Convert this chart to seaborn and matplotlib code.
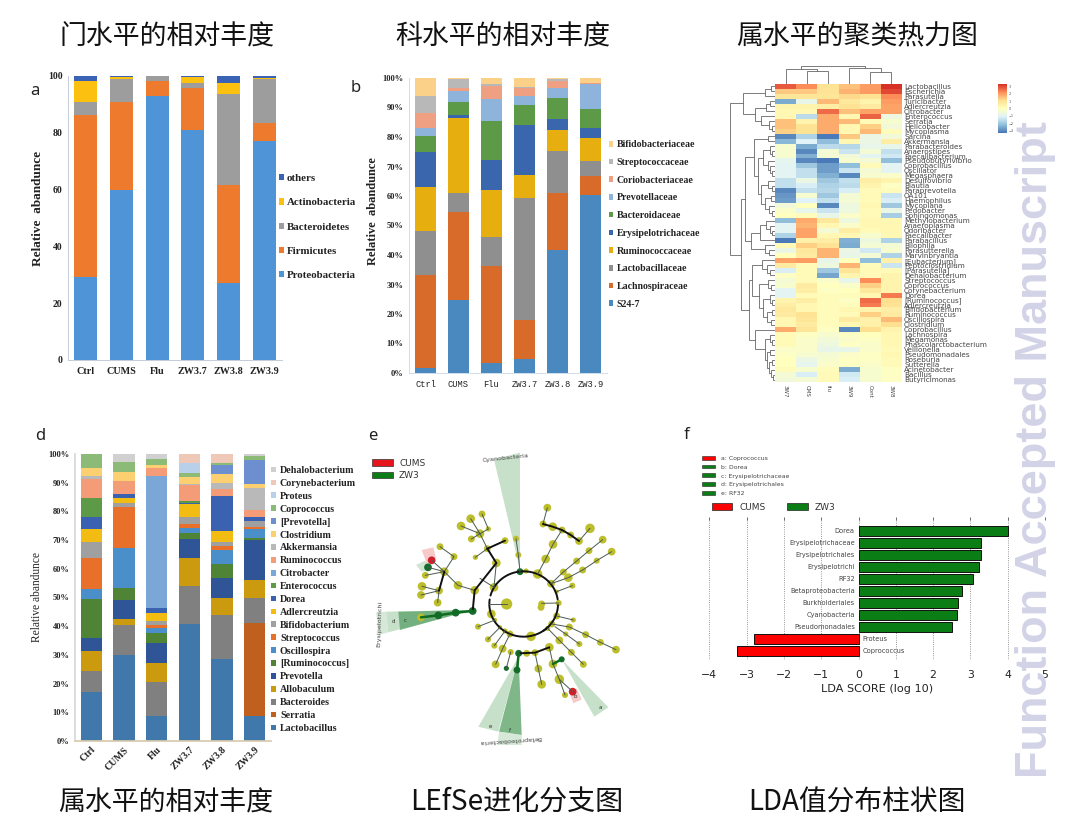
import numpy as np
import pandas as pd
import matplotlib
matplotlib.use("Agg")
import matplotlib.pyplot as plt
import seaborn as sns
from matplotlib.patches import Patch, Polygon
from matplotlib.colors import LinearSegmentedColormap

# ---------- panel a ----------
groups = ["Ctrl", "CUMS", "Flu", "ZW3.7", "ZW3.8", "ZW3.9"]
a_names = ["Proteobacteria", "Firmicutes", "Bacteroidetes", "Actinobacteria", "others"]
a_colors = ["#4e94d6", "#ee7a2e", "#9d9d9d", "#fcc010", "#3a62b5"]
a_ctrl = [29.4, 56.8, 4.7, 7.3, 1.8]
a_cums = [59.8, 31.1, 8.1, 0.6, 0.4]
a_flu = [93.0, 5.2, 1.8, 0.0, 0.0]
a_zw37 = [80.9, 15.0, 1.8, 1.9, 0.4]
a_zw38 = [27.2, 34.3, 32.3, 3.7, 2.5]
a_zw39 = [77.0, 6.5, 15.3, 0.6, 0.6]

# ---------- panel b ----------
b_names = ["S24-7", "Lachnospiraceae", "Lactobacillaceae", "Ruminococcaceae", "Erysipelotrichaceae",
           "Bacteroidaceae", "Prevotellaceae", "Coriobacteriaceae", "Streptococcaceae", "Bifidobacteriaceae"]
b_colors = ["#4a88c0", "#d96b2a", "#8f8f8f", "#e6ae0e", "#3a66ae",
            "#5d9a48", "#8fb4dc", "#ef9f82", "#b8b8b8", "#fbd088"]
b_ctrl = [1.7, 31.6, 14.7, 15.0, 11.8, 5.4, 2.8, 5.0, 6.0, 6.0]
b_cums = [24.9, 29.6, 6.5, 25.5, 0.8, 4.7, 3.5, 1.0, 3.0, 0.5]
b_flu = [3.5, 32.7, 9.8, 16.0, 10.2, 13.1, 7.5, 4.6, 0.6, 2.0]
b_zw37 = [4.8, 13.3, 41.3, 7.7, 17.0, 6.9, 2.8, 2.8, 0.2, 3.2]
b_zw38 = [41.6, 19.4, 14.2, 7.3, 3.5, 7.3, 3.2, 2.5, 0.6, 0.4]
b_zw39 = [60.4, 6.4, 5.2, 7.5, 3.7, 6.2, 8.6, 0.2, 0.1, 1.7]

# ---------- panel d ----------
d_names = ["Lactobacillus", "Serratia", "Bacteroides", "Allobaculum", "Prevotella", "[Ruminococcus]",
           "Oscillospira", "Streptococcus", "Bifidobacterium", "Adlercreutzia", "Dorea", "Enterococcus",
           "Citrobacter", "Ruminococcus", "Akkermansia", "Clostridium", "[Prevotella]", "Coprococcus",
           "Proteus", "Corynebacterium", "Dehalobacterium"]
d_colors = ["#4178ac", "#c0601f", "#808080", "#cc9a0e", "#2f5597", "#4f8437", "#4a8fca", "#e8702a",
            "#a0a0a0", "#f3bc12", "#3a62b0", "#5c9a47", "#7aa6d8", "#f49b78", "#b9b9b9", "#fcd071",
            "#6d8fcf", "#8cbb78", "#b8d0ea", "#f0c8b8", "#d0d0d0"]
d_ctrl = [17.1, 0.0, 7.2, 7.2, 4.5, 13.6, 3.4, 10.6, 5.9, 4.3, 4.1, 6.7, 0.0, 6.8, 1.0, 2.6, 0.0, 5.0, 0.0, 0.0, 0.0]
d_cums = [30.0, 0.0, 10.5, 2.1, 6.6, 4.2, 13.9, 14.4, 1.4, 1.6, 1.4, 0.0, 0.0, 4.4, 0.0, 3.1, 0.3, 3.3, 0.0, 0.0, 2.8]
d_flu = [8.8, 0.0, 11.6, 6.8, 7.1, 3.5, 1.4, 1.2, 1.4, 2.9, 1.7, 0.0, 46.0, 2.7, 0.0, 1.1, 0.0, 2.2, 0.0, 0.0, 1.6]
d_zw37 = [40.7, 0.0, 13.4, 9.7, 6.6, 2.1, 1.8, 1.3, 2.6, 4.3, 0.4, 0.8, 0.0, 5.5, 0.3, 2.4, 0.0, 1.5, 3.5, 3.1, 0.0]
d_zw38 = [28.5, 0.0, 15.4, 6.0, 6.9, 4.7, 4.9, 1.6, 1.2, 3.9, 12.2, 0.0, 0.0, 2.4, 2.2, 3.0, 3.4, 0.7, 0.0, 3.0, 0.0]
d_zw39 = [8.7, 32.4, 8.7, 6.3, 13.9, 0.9, 3.0, 0.6, 2.0, 0.0, 1.4, 0.0, 0.0, 2.5, 7.7, 1.4, 8.5, 1.2, 0.0, 0.0, 0.8]

# ---------- panel c heat map ----------
heat_cols = ["3W7", "CMS", "flu", "3W9", "Cont", "3W8"]
heat_rows = ["Lactobacillus", "Escherichia", "Parasutella", "Turicibacter", "Adlercreutzia", "Citrobacter",
             "Enterococcus", "Serratia", "Helicobacter", "Mycoplasma", "Sarcina", "Akkermansia",
             "Parabacteroides", "Anaerostipes", "Faecalibacterium", "Pseudobutyrivibrio", "Coprobacillus",
             "Oscillator", "Megasphaera", "Desulfovibrio", "Blautia", "Paraprevotella", "OA101", "Haemophilus",
             "Mycoplana", "Pedobacter", "Sphingomonas", "Methylobacterium", "Anaeroplasma", "Odoribacter",
             "Faecalibacter", "Parabacillus", "Bilophila", "Parasutterella", "Marvinbryantia", "[Eubacterium]",
             "Peptoclostridium", "[Parasutella]", "Dehalobacterium", "Streptococcus", "Coprococcus",
             "Corynebacterium", "Dorea", "[Ruminococcus]", "Adlercreutzia", "Bifidobacterium", "Ruminococcus",
             "Oscillospira", "Clostridium", "Coprobacillus", "Lachnospira", "Megamonas", "Phascolarctobacterium",
             "Veillonella", "Pseudomonadales", "Roseburia", "Sutterella", "Acinetobacter", "Bacillus", "Butyricimonas"]
heat_c1 = [2.8,1.4,.9,-2.5,.4,.3,.3,1.5,1.5,1.3,-3,-2.3,-.3,-.3,-.3,-.9,-1,-1,-1,-1.5,-1.5,-3,-2.8,-2.7,-.5,-.2,0,-2.2,-1,-1,
           -1.8,-3.2,.2,-.7,0,1.9,.7,-1.2,-.1,-.4,-.3,-1,-1,.4,.6,.8,.7,.3,.3,1.8,.2,.2,.2,-.2,-.1,0,0,.1,-.4,-.5]
heat_c2 = [2.2,1.4,.9,-.8,.4,.3,-1.6,.4,1,1,-1.8,-1.1,-2.5,-3,-2.4,-3,-2,-1.5,-1.5,-.7,-1.2,-1.5,-.3,-1.1,0,-.8,.1,1.8,1.7,1.9,
           1.9,.5,1.3,.8,.7,2,.2,.2,.2,.2,.7,.6,.2,.6,.3,.3,1,.9,.7,.9,-.1,-.2,-.2,-.2,-.3,-.7,-.9,-.3,-1.2,-.4]
heat_c3 = [1.0,1,.9,1.6,.6,2.6,1.8,1.8,1.8,1.8,-3.2,-2.2,-1.6,-.4,-.4,-3.2,-2.7,-2.7,-2.4,-2,-1.8,-1.7,-2,-1.5,-3,-1.4,-.8,.8,.3,-.4,
           .3,.6,1,1.7,1.7,-.8,-.6,-2,-2.6,-.2,0,-.1,.1,.1,.1,.1,.1,.1,.1,-.1,-.3,-.5,-.6,-.8,-.4,-.3,-.2,.1,.2,.2]
heat_c4 = [1.5,1.7,1.2,.8,1,1.5,.3,1.6,.3,.3,1.4,.3,-1.7,-1.4,-.5,-.3,-2.2,-1.4,-3,-1.5,-1.6,-1.2,-.4,-.4,-.6,-.6,-.2,-.6,-.2,.6,
           .3,-2.4,-2.5,-.7,-.8,0,1.7,.9,.4,-.8,-.2,0,.1,-.1,.1,.3,.2,.7,.3,-3,-.1,-.2,-.1,-.8,-.2,-.1,-.1,-2.5,-1.3,-1.2]
heat_c5 = [2.0,2,1,.4,.7,1.9,2.7,.2,1.3,1.6,-.7,-.7,-.8,-.4,-1,-.4,.2,-.4,-.3,.6,.4,.2,.2,.2,.3,.2,.2,.3,.3,.2,
           -.3,-.6,-.4,-1.3,-.4,-2.2,.1,.2,.2,2.2,1.3,.8,.3,2.6,2.4,.4,1.3,.5,.5,1.1,0,-.1,-.2,-.2,-.1,-.1,-.2,-.3,-.3,-.3]
heat_c6 = [3.3,3,2.2,2,1.9,1.9,-.6,-.3,-.5,.1,-.5,.6,-.8,-1.5,-1.3,-2.2,-1,-1,-.2,.4,-.1,.1,-1.4,-1.2,-2,-.7,-1.9,.3,.3,.3,
           .3,-1.8,-.4,-.3,-1.8,.5,-1.4,.2,.4,.4,.4,.4,2.4,1.1,1,.6,.7,1.6,1.1,.4,.3,.3,.3,.2,.3,.2,.2,-.1,-.1,-.1]
heat_colors = ["#4575B4", "#91BFDB", "#E0F3F8", "#FFFFBF", "#FEE090", "#FC8D59", "#D73027"]
# dendrograms: [height, left, right]; integer leaves are row / column indices
row_c1 = [62, [22, 10, 11], [50, [35, [15, 12, [10, 13, 14]], [22, 15, [14, 16, [8, 17, 18]]]],
                             [42, [20, 19, [10, 20, 21]], [30, [12, 22, 23], [18, 24, [9, 25, 26]]]]]]
row_c2 = [72, [45, [28, 27, [16, 28, [9, 29, 30]]], 31], [30, 32, [18, 33, 34]]]
row_c3 = [70, [40, 35, [25, 36, [14, 37, 38]]], [48, [22, 39, [12, 40, 41]], [35, [14, 42, [8, 43, 44]], [24, [10, 45, 46], [12, 47, 48]]]]]
row_c4 = [60, 49, [30, [16, 50, [10, 51, 52]], [25, [14, 53, 54], [18, [8, 55, 56], [12, 57, [6, 58, 59]]]]]]
row_top = [95, [30, [12, 0, 1], 2], [60, [28, [15, 3, 4], 5], [42, 6, [18, 7, [8, 8, 9]]]]]
row_tree = [135, row_top, [102, [90, row_c1, row_c2], [78, row_c3, row_c4]]]
col_tree = [54, [44, 0, [40, 1, 2]], [47, 3, [37, 4, 5]]]

# ---------- panel e cladogram ----------
node_x = [440,545,543,596,475,468,533,557,579,606,549,562,578,632,657,690,498,573,610,650,687,728,625,668,710,755,590,637,590,
          640,575,628,677,721,768,563,598,634,670,617,658,513,568,525,500,452,579,598,615,535,545,428,407,450,435,420,405,394,
          403,384,354,402,409,382,360,332,385,366,303,334,435,346,344,294,253,282,240,237,186,183,233,196,183]
node_y = [522,522,532,519,375,326,432,387,343,300,282,233,290,315,333,295,423,461,426,393,362,329,443,420,392,365,485,467,558,
          570,582,591,614,637,659,595,631,667,703,612,642,619,652,668,670,666,702,748,795,716,763,656,703,612,603,592,570,552,
          647,628,590,472,399,356,311,266,297,252,288,327,332,382,481,466,425,380,350,482,469,495,518,436,562]
node_r = [13,8,8,7,7,7,11,10,10,8,8,9,10,8,9,11,6,9,8,8,8,9,10,8,7,9,5,7,8,
          6,8,8,8,8,9,6,9,8,8,6,7,11,10,8,8,7,10,11,7,9,10,9,9,8,6,5,5,10,
          7,7,7,10,10,8,10,10,6,8,10,8,8,6,10,10,10,8,8,9,10,9,9,8,9]
dark_x = [480, 476, 471, 338, 287, 235, 605, 439, 204]
dark_y = [425, 670, 720, 543, 548, 556, 688, 715, 412]
dark_r = [8, 8, 8, 9, 9, 9, 7, 6, 9]
red_x = [215, 638]
red_y = [391, 785]
red_r = [9, 9]
thin_edges = [[(388,522),(440,522)], [(545,520),(596,519)], [(480,425),(475,375),(468,326)],
              [(533,432),(557,387),(579,343),(606,300)], [(549,282),(562,233)], [(657,333),(690,295)],
              [(573,461),(610,426),(650,393),(687,362),(728,329)], [(573,461),(625,443),(668,420),(710,392),(755,365)],
              [(590,485),(637,467)], [(590,558),(640,570)], [(575,582),(628,591),(677,614),(721,637),(768,659)],
              [(563,595),(598,631),(634,667),(670,703)], [(585,590),(617,612),(658,642)],
              [(579,702),(598,748),(638,785)], [(598,748),(615,795)], [(525,668),(535,716),(545,763)],
              [(568,652),(579,702)], [(450,612),(428,656),(407,703)], [(452,666),(439,715)],
              [(435,603),(403,647)], [(420,592),(384,628)], [(405,570),(354,590)], [(402,472),(360,445)],
              [(382,356),(360,311),(332,266)], [(360,311),(385,297),(366,252)], [(360,311),(303,288)],
              [(360,311),(334,327)], [(382,356),(346,382)], [(344,481),(294,466),(253,425)], [(253,425),(282,380),(240,350)],
              [(237,482),(186,469)], [(237,482),(183,495)], [(237,482),(233,518)], [(253,425),(215,391)],
              [(253,425),(204,412)], [(253,425),(196,436)], [(402,472),(409,399)]]
thick_edges = [[(549,282),(578,290),(606,300),(632,315),(657,333)], [(409,399),(382,356)], [(382,356),(435,332)],
               [(409,399),(344,481),(338,543)], [(253,425),(237,482)], [(568,652),(525,668),(476,670)]]
green_edges = [[(338,543),(287,548),(235,556),(183,562)], [(476,670),(471,720)], [(579,702),(605,688)]]
ring_starts = [-55, 8, 172]
ring_ends = [-2, 165, 315]
wedge_dark = [[(338,540),(115,545),(120,600)], [(476,680),(417,905),(485,915)]]
wedge_mid = [[(338,540),(78,545),(85,607)], [(476,680),(355,890),(415,905)], [(480,420),(402,88),(480,68)],
             [(605,688),(745,832),(703,860)]]
wedge_pale = [[(78,545),(48,548),(58,615),(85,607)], [(417,905),(485,915),(485,945),(412,945)]]
wedge_red = [[(628,790),(640,820),(665,808),(650,775)], [(185,360),(220,352),(228,385),(200,400)]]
wedge_small = [[(168,405),(195,392),(215,415),(185,425)]]

# ---------- panel f ----------
lda_names = ["Dorea", "Erysipelotrichaceae", "Erysipelotrichales", "Erysipelotrichi", "RF32", "Betaproteobacteria",
             "Burkholderiales", "Cyanobacteria", "Pseudomonadales", "Proteus", "Coprococcus"]
lda_values = [4.02, 3.28, 3.28, 3.23, 3.07, 2.78, 2.68, 2.63, 2.50, -2.79, -3.27]
lda_groups = ["ZW3"] * 9 + ["CUMS"] * 2
lda_ticks = [-4, -3, -2, -1, 0, 1, 2, 3, 4, 5]
f_keys = ["a: Coprococcus", "b: Dorea", "c: Erysipelotrichaceae", "d: Erysipelotrichales", "e: RF32"]
f_key_colors = ["#ff0000", "#0a7d15", "#0a7d15", "#0a7d15", "#0a7d15"]

titles_top = ["门水平的相对丰度", "科水平的相对丰度", "属水平的聚类热力图"]
titles_bottom = ["属水平的相对丰度", "LEfSe进化分支图", "LDA值分布柱状图"]
watermark = "Function Accepted Manuscript"

# ---------- drawing ----------
sns.set_theme(style="white")
CJK = ["Noto Sans CJK SC", "DejaVu Sans"]
plt.rcParams["font.family"] = ["DejaVu Sans"]
SERIF = "Liberation Serif"
MONO = "Liberation Mono"
W, H = 1080, 831
fig = plt.figure(figsize=(W / 100, H / 100), dpi=100, facecolor="white")


def axpx(l, t, r, b):
    return fig.add_axes([l / W, 1 - b / H, (r - l) / W, (b - t) / H])


def fx(x):
    return x / W


def fy(y):
    return 1 - y / H


def stacked(ax, rows, names, colors, width):
    table = np.array(rows, dtype=float)
    bottom = np.zeros(len(groups))
    for k, (name, col) in enumerate(zip(names, colors)):
        sns.barplot(x=groups, y=table[:, k], bottom=bottom, color=col, saturation=1,
                    width=width, errorbar=None, ax=ax, linewidth=0)
        bottom = bottom + table[:, k]
    ax.set_xlim(-0.5, 5.5)
    for s in ("top", "right"):
        ax.spines[s].set_visible(False)


def key(ax, names, colors, x, y, size, fam, spacing, pad):
    handles = [Patch(facecolor=c, edgecolor="none", label=n) for n, c in zip(names, colors)][::-1]
    ax.legend(handles=handles, loc="center left", bbox_to_anchor=(fx(x), fy(y)), bbox_transform=fig.transFigure,
              frameon=False, borderpad=0, borderaxespad=0, handlelength=0.5, handleheight=0.5, handletextpad=pad,
              labelspacing=spacing, prop=dict(family=fam, weight="bold", size=size), labelcolor="#222222")


def ylabel(ax, text, x, y, size, weight):
    ax.set_ylabel(text, family=SERIF, fontsize=size, weight=weight, color="#222222")
    ax.yaxis.set_label_coords(fx(x), fy(y), transform=fig.transFigure)


# panel a
ax_a = axpx(68, 76, 282, 360)
stacked(ax_a, [a_ctrl, a_cums, a_flu, a_zw37, a_zw38, a_zw39], a_names, a_colors, 0.64)
ax_a.set_ylim(0, 100)
ax_a.set_yticks([0, 20, 40, 60, 80, 100])
ax_a.tick_params(axis="y", labelsize=7, length=2, width=0.5, color="#999999", pad=2, labelcolor="#222222")
ax_a.tick_params(axis="x", length=0, pad=5)
for t in ax_a.get_xticklabels() + ax_a.get_yticklabels():
    t.set_family(SERIF)
    t.set_weight("bold")
ax_a.tick_params(axis="x", labelsize=7.3, labelcolor="#222222")
for s in ("left", "bottom"):
    ax_a.spines[s].set_color("#c4ccd8")
    ax_a.spines[s].set_linewidth(0.7)
ylabel(ax_a, "Relative  abandunce", 44, 208, 9.5, "bold")
key(ax_a, a_names, a_colors, 279, 227, 7.8, SERIF, 1.4, 0.2)

# panel b
ax_b = axpx(409, 78, 607, 373)
stacked(ax_b, [b_ctrl, b_cums, b_flu, b_zw37, b_zw38, b_zw39], b_names, b_colors, 0.65)
ax_b.set_ylim(0, 100)
ax_b.set_yticks(np.arange(0, 101, 10))
ax_b.set_yticklabels([f"{v}%" for v in range(0, 101, 10)])
ax_b.tick_params(axis="y", labelsize=6, length=2, width=0.5, color="#bbbbbb", pad=2, labelcolor="#222222")
ax_b.tick_params(axis="x", length=0, pad=5, labelsize=6.3, labelcolor="#222222")
for t in ax_b.get_yticklabels():
    t.set_family(SERIF)
    t.set_weight("bold")
for t in ax_b.get_xticklabels():
    t.set_family(MONO)
for s in ("left", "bottom"):
    ax_b.spines[s].set_color("#cfdcec")
    ax_b.spines[s].set_linewidth(0.7)
ylabel(ax_b, "Relative  abandunce", 379, 211, 9, "bold")
key(ax_b, b_names, b_colors, 608.5, 224.5, 7.1, SERIF, 0.88, 0.3)

# panel d
ax_d = axpx(75, 454, 271, 741)
stacked(ax_d, [d_ctrl, d_cums, d_flu, d_zw37, d_zw38, d_zw39], d_names, d_colors, 0.66)
ax_d.set_ylim(0, 100)
ax_d.set_yticks(np.arange(0, 101, 10))
ax_d.set_yticklabels([f"{v}%" for v in range(0, 101, 10)])
ax_d.tick_params(axis="y", labelsize=6, length=2, width=0.5, color="#bbbbbb", pad=2, labelcolor="#222222")
ax_d.tick_params(axis="x", length=0, pad=3, labelsize=7, labelcolor="#222222")
for t in ax_d.get_yticklabels():
    t.set_family(SERIF)
    t.set_weight("bold")
for t in ax_d.get_xticklabels():
    t.set_family(SERIF)
    t.set_weight("bold")
    t.set_rotation(45)
    t.set_ha("right")
    t.set_rotation_mode("anchor")
ax_d.spines["left"].set_color("#d8d8d8")
ax_d.spines["bottom"].set_color("#d8cbb0")
ylabel(ax_d, "Relative abandunce", 43, 597, 8.3, "normal")
key(ax_d, d_names, d_colors, 270.5, 599.5, 7.2, SERIF, 0.39, 0.45)

# panel c
ax_h = axpx(775, 84, 902, 382)
cax = axpx(998, 84, 1007, 133)
heat = pd.DataFrame(np.column_stack([heat_c1, heat_c2, heat_c3, heat_c4, heat_c5, heat_c6]),
                    index=heat_rows, columns=heat_cols)
sns.heatmap(heat, ax=ax_h, cbar_ax=cax, cmap=LinearSegmentedColormap.from_list("pheat", heat_colors),
            vmin=-3.3, vmax=3.3, yticklabels=True, xticklabels=True)
ax_h.yaxis.tick_right()
ax_h.tick_params(axis="y", length=0, labelsize=5.2, labelrotation=0, pad=1.5, labelcolor="#444444")
ax_h.tick_params(axis="x", length=0, labelsize=4, labelrotation=270, pad=2, labelcolor="#444444")
cax.tick_params(length=0, labelsize=2.5, pad=1, labelcolor="#555555")
cax.set_yticks([-3, -2, -1, 0, 1, 2, 3])


def draw_tree(ax, node, horizontal):
    """Returns (position of node along the leaves, height of node)."""
    if not isinstance(node, list):
        return node + 0.5, 0
    h, left, right = node
    p1, h1 = draw_tree(ax, left, horizontal)
    p2, h2 = draw_tree(ax, right, horizontal)
    if horizontal:
        ax.plot([h1, h, h, h2], [p1, p1, p2, p2], color="#666666", lw=0.6, solid_joinstyle="miter")
    else:
        ax.plot([p1, p1, p2, p2], [h1, h, h, h2], color="#666666", lw=0.6, solid_joinstyle="miter")
    return (p1 + p2) / 2, h


ax_rt = axpx(730, 84, 775, 382)
draw_tree(ax_rt, row_tree, True)
ax_rt.set_xlim(135, 0)
ax_rt.set_ylim(60, 0)
ax_rt.axis("off")
ax_ct = axpx(775, 66, 902, 84)
draw_tree(ax_ct, col_tree, False)
ax_ct.set_xlim(0, 6)
ax_ct.set_ylim(0, 54)
ax_ct.axis("off")

# panel e
ax_e = axpx(360, 430, 670, 770)
ax_e.set_xlim(0, 930)
ax_e.set_ylim(1020, 0)
ax_e.axis("off")
for poly in wedge_mid:
    ax_e.add_patch(Polygon(poly, closed=True, facecolor="#a9d0ae", alpha=0.65, edgecolor="none"))
for poly in wedge_dark:
    ax_e.add_patch(Polygon(poly, closed=True, facecolor="#5fa56c", alpha=0.8, edgecolor="none"))
for poly in wedge_pale:
    ax_e.add_patch(Polygon(poly, closed=True, facecolor="#c5e0c8", alpha=0.7, edgecolor="none"))
for poly in wedge_red:
    ax_e.add_patch(Polygon(poly, closed=True, facecolor="#f6b8b8", alpha=0.75, edgecolor="none"))
for poly in wedge_small:
    ax_e.add_patch(Polygon(poly, closed=True, facecolor="#c5e0c8", alpha=0.8, edgecolor="none"))
for a0, a1 in zip(ring_starts, ring_ends):
    th = np.radians(np.linspace(a0, a1, 120))
    ax_e.plot(491 + 103 * np.cos(th), 522 - 98 * np.sin(th), color="#111111", lw=1.4)
for e in thin_edges:
    ax_e.plot(*zip(*e), color="#4a5a50", lw=0.7)
for e in thick_edges:
    ax_e.plot(*zip(*e), color="#111111", lw=1.4)
for e in green_edges:
    ax_e.plot(*zip(*e), color="#0f6d22", lw=1.8)
sns.scatterplot(x=node_x, y=node_y, s=[(0.62 * r) ** 2 for r in node_r], color="#bcbe2c", linewidth=0, ax=ax_e, legend=False)
sns.scatterplot(x=dark_x, y=dark_y, s=[(0.62 * r) ** 2 for r in dark_r], color="#176b2c", linewidth=0, ax=ax_e, legend=False)
sns.scatterplot(x=red_x, y=red_y, s=[(0.62 * r) ** 2 for r in red_r], color="#d2202a", linewidth=0, ax=ax_e, legend=False)
ax_e.set_xlim(0, 930)
ax_e.set_ylim(1020, 0)
for txt, x, y, rot in [("Cyanobacteria", 438, 83, 6), ("Erysipelotrichi", 60, 582, 88),
                       ("Betaproteobacteria", 450, 930, 184)]:
    ax_e.text(x, y, txt, fontsize=4.6, rotation=rot, ha="center", va="center", color="#444444")
for txt, x, y in [("d", 100, 575), ("c", 135, 570), ("e", 390, 888), ("f", 450, 903), ("a", 720, 833), ("b", 647, 800)]:
    ax_e.text(x, y, txt, fontsize=4, ha="center", va="center", color="#333333")
ax_e.legend(handles=[Patch(facecolor="#e8141c", edgecolor="#333333", lw=0.5, label="CUMS"),
                     Patch(facecolor="#0a7d15", edgecolor="#333333", lw=0.5, label="ZW3")],
            loc="center left", bbox_to_anchor=(fx(372), fy(469.5)), bbox_transform=fig.transFigure, frameon=False,
            borderpad=0, borderaxespad=0, handlelength=2.3, handleheight=0.7, handletextpad=0.7,
            labelspacing=0.42, fontsize=6.5, labelcolor="#333333")

# panel f
ax_f = axpx(709.3, 520, 1045, 660)
lda = pd.DataFrame({"name": lda_names, "score": lda_values, "group": lda_groups})
sns.barplot(data=lda, y="name", x="score", hue="group", palette={"ZW3": "#0a7d15", "CUMS": "#ff0000"}, dodge=False,
            saturation=1, width=0.84, edgecolor="#111111", linewidth=0.7, legend=False, ax=ax_f, zorder=3)
ax_f.set_xlim(-4, 5)
ax_f.set_ylim(10.72, -0.914)
ax_f.set_xticks(lda_ticks)
ax_f.set_yticks([])
ax_f.set_ylabel("")
ax_f.set_xlabel("LDA SCORE (log 10)", fontsize=8.1, color="#222222", labelpad=3)
ax_f.tick_params(axis="x", labelsize=7.8, length=2, width=0.5, top=True, color="#333333", pad=5, labelcolor="#222222")
ax_f.grid(axis="x", linestyle=":", linewidth=0.6, color="#777777")
ax_f.set_axisbelow(True)
sns.despine(ax=ax_f, left=True, bottom=True, top=True, right=True)
for i, (name, v) in enumerate(zip(lda_names, lda_values)):
    if v > 0:
        ax_f.text(-0.1, i, name, ha="right", va="center", fontsize=4.8, color="#444444")
    else:
        ax_f.text(0.1, i, name, ha="left", va="center", fontsize=4.8, color="#444444")
lg1 = ax_f.legend(handles=[Patch(facecolor=c, edgecolor="#222222", lw=0.4, label=n) for n, c in zip(f_keys, f_key_colors)],
                  loc="center left", bbox_to_anchor=(fx(702), fy(476)), bbox_transform=fig.transFigure, frameon=False,
                  borderpad=0, borderaxespad=0, handlelength=2.1, handleheight=0.6, handletextpad=1.0,
                  labelspacing=0.62, fontsize=4.4, labelcolor="#444444")
ax_f.add_artist(lg1)
ax_f.legend(handles=[Patch(facecolor="#ff0000", edgecolor="#222222", lw=0.5, label="CUMS"),
                     Patch(facecolor="#0a7d15", edgecolor="#222222", lw=0.5, label="ZW3")],
            ncol=2, loc="center left", bbox_to_anchor=(fx(712), fy(507)), bbox_transform=fig.transFigure, frameon=False,
            borderpad=0, borderaxespad=0, handlelength=2.25, handleheight=0.7, handletextpad=0.8, columnspacing=2.4,
            fontsize=6.5, labelcolor="#333333")

# titles, panel letters, watermark
for txt, x, size in zip(titles_top, [167, 503, 857], [19.4, 19.4, 19.4]):
    fig.text(fx(x), fy(37), txt, family=CJK, fontsize=size, ha="center", va="center", color="#111111")
for txt, x, size in zip(titles_bottom, [166, 517, 857], [19.4, 20.2, 20]):
    fig.text(fx(x), fy(803), txt, family=CJK, fontsize=size, ha="center", va="center", color="#111111")
for txt, x, y in [("a", 35, 91), ("b", 356, 88), ("d", 40, 436), ("e", 373, 436), ("f", 687, 435)]:
    fig.text(fx(x), fy(y), txt, fontsize=12, family="Noto Sans", ha="center", va="center", color="#222222")
fig.text(fx(1036), fy(450), watermark, family="Liberation Sans", weight="bold", fontsize=32.5, rotation=90,
         ha="center", va="center", color="#d3d3e8", zorder=20)

fig.savefig("out.png", dpi=100)
